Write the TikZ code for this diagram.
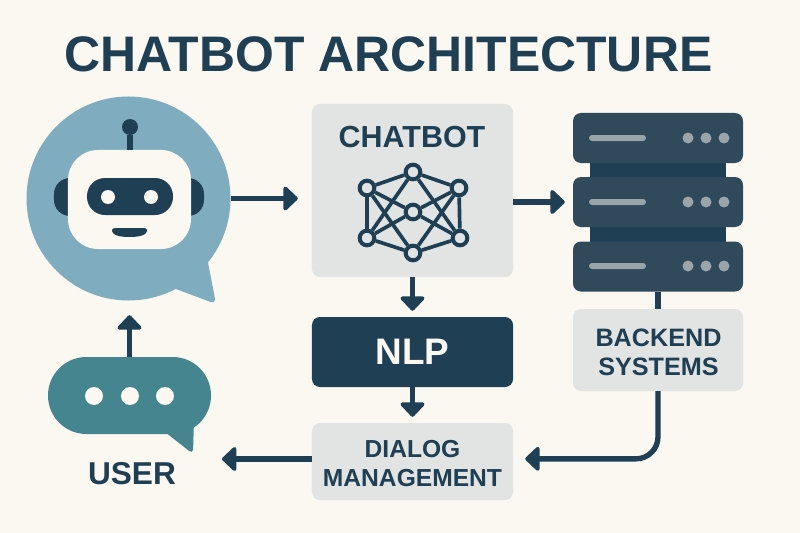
\documentclass[tikz,border=0pt]{standalone}
\usepackage{fontspec}
\setmainfont{Liberation Sans}
\usetikzlibrary{arrows.meta, positioning}

\definecolor{pagebg}{HTML}{FBF7F1}
\definecolor{ink}{HTML}{1F3F54}
\definecolor{rack}{HTML}{30495B}
\definecolor{rackmark}{HTML}{9AA5A9}
\definecolor{panelgrey}{HTML}{E1E4E2}
\definecolor{botblue}{HTML}{7FADBF}
\definecolor{userteal}{HTML}{45858F}

\begin{document}
\begin{tikzpicture}[
			x=0.03cm,
			y=-0.03cm,
			panel/.style={
					fill=panelgrey,
					rounded corners=0.24cm,
					minimum width=6.03cm,
					inner sep=0pt
				},
			panellabel/.style={
					align=center,
					text=ink,
					font=\fontsize{21}{24.8}\selectfont\bfseries
				},
			shelf/.style={
					fill=rack,
					rounded corners=0.24cm,
					minimum width=5.1cm,
					minimum height=1.5cm,
					inner sep=0pt
				},
			led/.style={
					circle,
					fill=rackmark,
					minimum size=0.33cm,
					inner sep=0pt
				},
			slot/.style={
					fill=rackmark,
					rounded corners=0.09cm,
					minimum width=1.71cm,
					minimum height=0.18cm,
					inner sep=0pt
				},
			neuron/.style={
					circle,
					draw=ink,
					fill=panelgrey,
					line width=0.12cm,
					minimum size=0.44cm,
					inner sep=0pt
				},
			synapse/.style={
					draw=ink,
					line width=0.11cm
				},
			whitedot/.style={
					circle,
					fill=pagebg,
					inner sep=0pt
				},
			flowarrow/.style={
			-{Triangle[length=0.46cm,width=0.84cm,round]},
			draw=ink,
			line width=0.16cm
			}
			]

			\path[fill=pagebg,use as bounding box] (0,0) rectangle (800,533);

			% ================= title =================
			\node[text=ink,font=\fontsize{42.6}{42.6}\selectfont\bfseries] (title) at (388.5,54) {CHATBOT ARCHITECTURE};

			% ================= robot bubble =================
			\node[circle,fill=botblue,minimum size=6.12cm,inner sep=0pt] (bot) at (128.5,198.5) {};
			\fill[botblue,rounded corners=0.18cm] (205,247) -- (216,304) -- (160,283) -- cycle;

			\node[circle,fill=ink,minimum size=0.48cm,inner sep=0pt] (antenna) at (130,127) {};
			\node[fill=ink,rounded corners=0.48cm,minimum width=4.5cm,minimum height=1.14cm,inner sep=0pt] (ears) at (129,197) {};
			\node[fill=pagebg,rounded corners=0.9cm,minimum width=3.69cm,minimum height=2.97cm,inner sep=0pt] (head) at (129.5,199.5) {};
			\draw[ink,line width=0.18cm] (antenna.south) -- (head.north -| antenna.south);
			\node[fill=ink,rounded corners=0.54cm,minimum width=2.58cm,minimum height=1.11cm,inner sep=0pt] (visor) at (130,196.5) {};
			\node[whitedot,minimum size=0.42cm] (lefteye) at (108,197) {};
			\node[whitedot,minimum size=0.42cm] (righteye) at (151,197) {};
			\fill[ink] (116,228) -- (143,228) .. controls (148,228) and (148,231) .. (145,234)
				.. controls (141,238) and (118,238) .. (114,234)
				.. controls (111,231) and (111,228) .. (116,228) -- cycle;

			% ================= main boxes =================
			\node[panel,minimum height=5.19cm] (chatbot) at (412.5,190.5) {};
			\node[panellabel,font=\fontsize{26}{26}\selectfont\bfseries] (chatbotlabel) at (412,137) {CHATBOT};
			\node[panel,fill=ink,minimum height=2.1cm] (nlp) at (412.5,352) {};
			\node[panellabel,text=pagebg,font=\fontsize{31.5}{31.5}\selectfont\bfseries] (nlplabel) at (412.5,352) {NLP};
			\node[panel,minimum height=2.31cm] (dialog) at (412.5,461.5) {};
			\node[panellabel] (dialoglabel) at (412.5,463.5) {DIALOG\\MANAGEMENT};
			\node[panel,minimum width=5.1cm,minimum height=2.46cm] (backend) at (658,350) {};
			\node[panellabel,font=\fontsize{21.5}{24.8}\selectfont\bfseries] (backendlabel) at (658.5,352.5) {BACKEND\\SYSTEMS};

			% ================= network inside the chatbot box =================
			\node[neuron] (ntop) at (413,172) {};
			\node[neuron] (nul) at (367,188) {};
			\node[neuron] (nur) at (459,188) {};
			\node[neuron] (nmid) at (413,212) {};
			\node[neuron] (nll) at (367,238) {};
			\node[neuron] (nlr) at (460,238) {};
			\node[neuron] (nbot) at (413,253) {};

			\draw[synapse] (ntop) -- (nul);
			\draw[synapse] (ntop) -- (nur);
			\draw[synapse] (nul) -- (nll);
			\draw[synapse] (nur) -- (nlr);
			\draw[synapse] (nll) -- (nbot);
			\draw[synapse] (nlr) -- (nbot);
			\draw[synapse] (ntop) -- (nll);
			\draw[synapse] (ntop) -- (nlr);
			\draw[synapse] (nul) -- (nbot);
			\draw[synapse] (nur) -- (nbot);
			\draw[synapse] (nul) -- (nmid);
			\draw[synapse] (nur) -- (nmid);
			\draw[synapse] (nll) -- (nmid);
			\draw[synapse] (nlr) -- (nmid);

			% ================= server rack =================
			\node[fill=ink,minimum width=4.08cm,minimum height=3.9cm,inner sep=0pt] (rackcore) at (658,202) {};
			\node[shelf] (servertop) at (658,138) {};
			\node[shelf] (servermid) at (658,202) {};
			\node[shelf] (serverbot) at (658,266.5) {};

			\node[slot] (slottop) at (617.5,138) {};
			\node[led] (ledtopa) at (688,138) {};
			\node[led] (ledtopb) at (706,138) {};
			\node[led] (ledtopc) at (724,138) {};

			\node[slot] (slotmid) at (617.5,202) {};
			\node[led] (ledmida) at (688,202) {};
			\node[led] (ledmidb) at (706,202) {};
			\node[led] (ledmidc) at (724,202) {};

			\node[slot] (slotbot) at (617.5,266) {};
			\node[led] (ledbota) at (688,266) {};
			\node[led] (ledbotb) at (706,266) {};
			\node[led] (ledbotc) at (724,266) {};

			% ================= user bubble =================
			\node[fill=userteal,rounded corners=1.15cm,minimum width=4.89cm,minimum height=2.31cm,inner sep=0pt] (user) at (129.5,395.5) {};
			\fill[userteal,rounded corners=0.14cm] (194,418) -- (193,454) -- (160,428) -- cycle;
			\node[whitedot,minimum size=0.54cm] (dotleft) at (94,396) {};
			\node[whitedot,minimum size=0.54cm] (dotmid) at (130,396) {};
			\node[whitedot,minimum size=0.54cm] (dotright) at (165,396) {};
			\node[text=ink,font=\fontsize{27}{27}\selectfont\bfseries] (userlabel) at (132,474) {USER};

			% ================= connectors =================
			\coordinate (userin) at (222,459);

			\draw[flowarrow,shorten >=0.42cm] (bot.east) -- (bot.east -| chatbot.west);
			\draw[flowarrow,shorten >=0.24cm] (servermid.west -| chatbot.east) -- (servermid.west);
			\draw[flowarrow,shorten >=0.18cm] (chatbot.south) -- (nlp.north);
			\draw[flowarrow,shorten >=0.18cm] (nlp.south) -- (dialog.north);
			\draw[flowarrow] (userin -| dialog.west) -- (userin);
			\draw[flowarrow,shorten >=0.435cm] (user.north) -- (user.north |- bot.south);

			\draw[ink,line width=0.18cm] (serverbot.south) -- (backend.north);
			\draw[flowarrow,rounded corners=0.66cm,shorten >=0.36cm] (backend.south) |- ([yshift=0.08cm]dialog.east);

		\end{tikzpicture}
\end{document}
